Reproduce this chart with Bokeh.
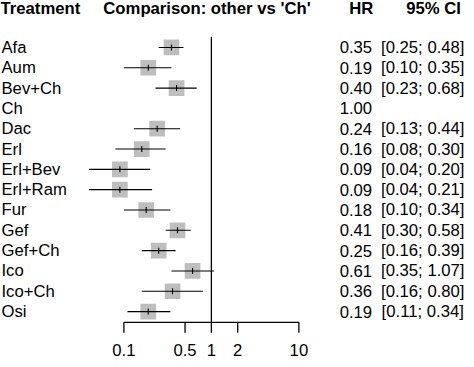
import math
from bokeh.plotting import figure
from bokeh.models import Range1d, LinearScale, ColumnDataSource
from bokeh.core.properties import value
from bokeh.embed import file_html
from bokeh.resources import INLINE

# ---------------- data ----------------
treatments = ["Afa", "Aum", "Bev+Ch", "Ch", "Dac", "Erl", "Erl+Bev", "Erl+Ram",
              "Fur", "Gef", "Gef+Ch", "Ico", "Ico+Ch", "Osi"]
hr = [0.35, 0.19, 0.40, 1.00, 0.24, 0.16, 0.09, 0.09, 0.18, 0.41, 0.25, 0.61, 0.36, 0.19]
lower = [0.25, 0.10, 0.23, None, 0.13, 0.08, 0.04, 0.04, 0.10, 0.30, 0.16, 0.35, 0.16, 0.11]
upper = [0.48, 0.35, 0.68, None, 0.44, 0.30, 0.20, 0.21, 0.34, 0.58, 0.39, 1.07, 0.80, 0.34]
axis_ticks = [0.1, 0.5, 1, 2, 10]
axis_tick_labels = ["0.1", "0.5", "1", "2", "10"]
headers = ["Treatment", "Comparison: other vs 'Ch'", "HR", "95% CI"]
reference_value = 1.0

# ---------------- layout (reference pixel space) ----------------
REF_W, REF_H = 474.0, 367.0
X_ONE = 214.5        # pixel position of HR = 1
DECADE = 89.0        # pixels per log10 decade
ROW0 = 48.0          # pixel y of first row
ROW_H = 20.77        # pixel spacing of rows
AXIS_Y = 329.0       # pixel y of axis line
TICK_LEN = 10.5      # tick length in pixels
TICK_LABEL_Y = 357.0 # pixel y of tick labels
N = len(treatments)

def row_of(py):
    # convert a reference pixel y (top-down) to the row coordinate (bottom-up)
    return (N - 1) - (py - ROW0) / ROW_H

FONT = value("Liberation Sans")
FS = value("16.7px")

p = figure(width=466, height=359, output_backend="svg", toolbar_location=None,
           x_axis_type="log", x_axis_location=None, y_axis_location=None,
           x_range=Range1d(10 ** ((0 - X_ONE) / DECADE), 10 ** ((REF_W - X_ONE) / DECADE)),
           y_range=Range1d(row_of(REF_H), row_of(0.0)),
           min_border=0, outline_line_color=None)
p.extra_x_ranges = {"px": Range1d(0, REF_W)}
p.extra_x_scales = {"px": LinearScale()}
p.grid.visible = False

ys = [N - 1 - i for i in range(N)]
nan = float("nan")
src = ColumnDataSource(dict(
    name=treatments, y=ys,
    hr=[h if l is not None else nan for h, l in zip(hr, lower)],
    lo=[l if l is not None else nan for l in lower],
    hi=[u if u is not None else nan for u in upper],
    hr_txt=[f"{h:.2f}" for h in hr],
    ci_txt=[f"[{l:.2f}; {u:.2f}]" if l is not None else "" for l, u in zip(lower, upper)],
))

Y_AXIS = row_of(AXIS_Y)

# reference (no effect) line
p.segment(x0=[reference_value], x1=[reference_value], y0=[row_of(37)], y1=[Y_AXIS],
          line_color="black", line_width=1.3)

# x axis: rule, ticks and tick labels on the log scale
tick_src = ColumnDataSource(dict(t=axis_ticks, lab=axis_tick_labels,
                                 ym=[row_of(AXIS_Y + TICK_LEN / 2)] * len(axis_ticks),
                                 yl=[row_of(TICK_LABEL_Y)] * len(axis_ticks)))
p.segment(x0=[min(axis_ticks)], x1=[max(axis_ticks)], y0=[Y_AXIS], y1=[Y_AXIS],
          line_color="black", line_width=1.3)
p.scatter(x="t", y="ym", source=tick_src, marker="dash", angle=math.pi / 2,
          size=TICK_LEN, line_color="black", line_width=1.3)
p.text(x="t", y="yl", text="lab", source=tick_src, text_font=FONT, text_font_size=FS,
       text_align="center", text_baseline="middle", text_color="black")

# squares
p.scatter(x="hr", y="y", source=src, marker="square",
          size=15.7, fill_color="#BEBEBE", line_color=None)
# CI lines
p.segment(x0="lo", x1="hi", y0="y", y1="y", source=src,
          line_color="black", line_width=1.1)
# point tick
p.scatter(x="hr", y="y", source=src, marker="dash", angle=math.pi / 2,
          size=6, line_color="black", line_width=1.1)

# text columns
p.text(x=1, y="y", text="name", source=src, x_range_name="px", text_font=FONT,
       text_font_size=FS, text_align="left", text_baseline="middle", text_color="black")
p.text(x=361.5, y="y", text="hr_txt", source=src, x_range_name="px", text_font=FONT,
       text_font_size=FS, text_align="center", text_baseline="middle", text_color="black")
p.text(x=429.5, y="y", text="ci_txt", source=src, x_range_name="px", text_font=FONT,
       text_font_size=FS, text_align="center", text_baseline="middle", text_color="black")

# headers
hsrc = ColumnDataSource(dict(x=[0, 210, 367, 440.5], y=[row_of(8)] * 4, t=headers,
                             a=["left", "center", "center", "center"]))
p.text(x="x", y="y", text="t", text_align="a", source=hsrc, x_range_name="px",
       text_font=FONT, text_font_size=FS, text_font_style="bold",
       text_baseline="middle", text_color="black")

open("out.html", "w").write(file_html(p, INLINE))
